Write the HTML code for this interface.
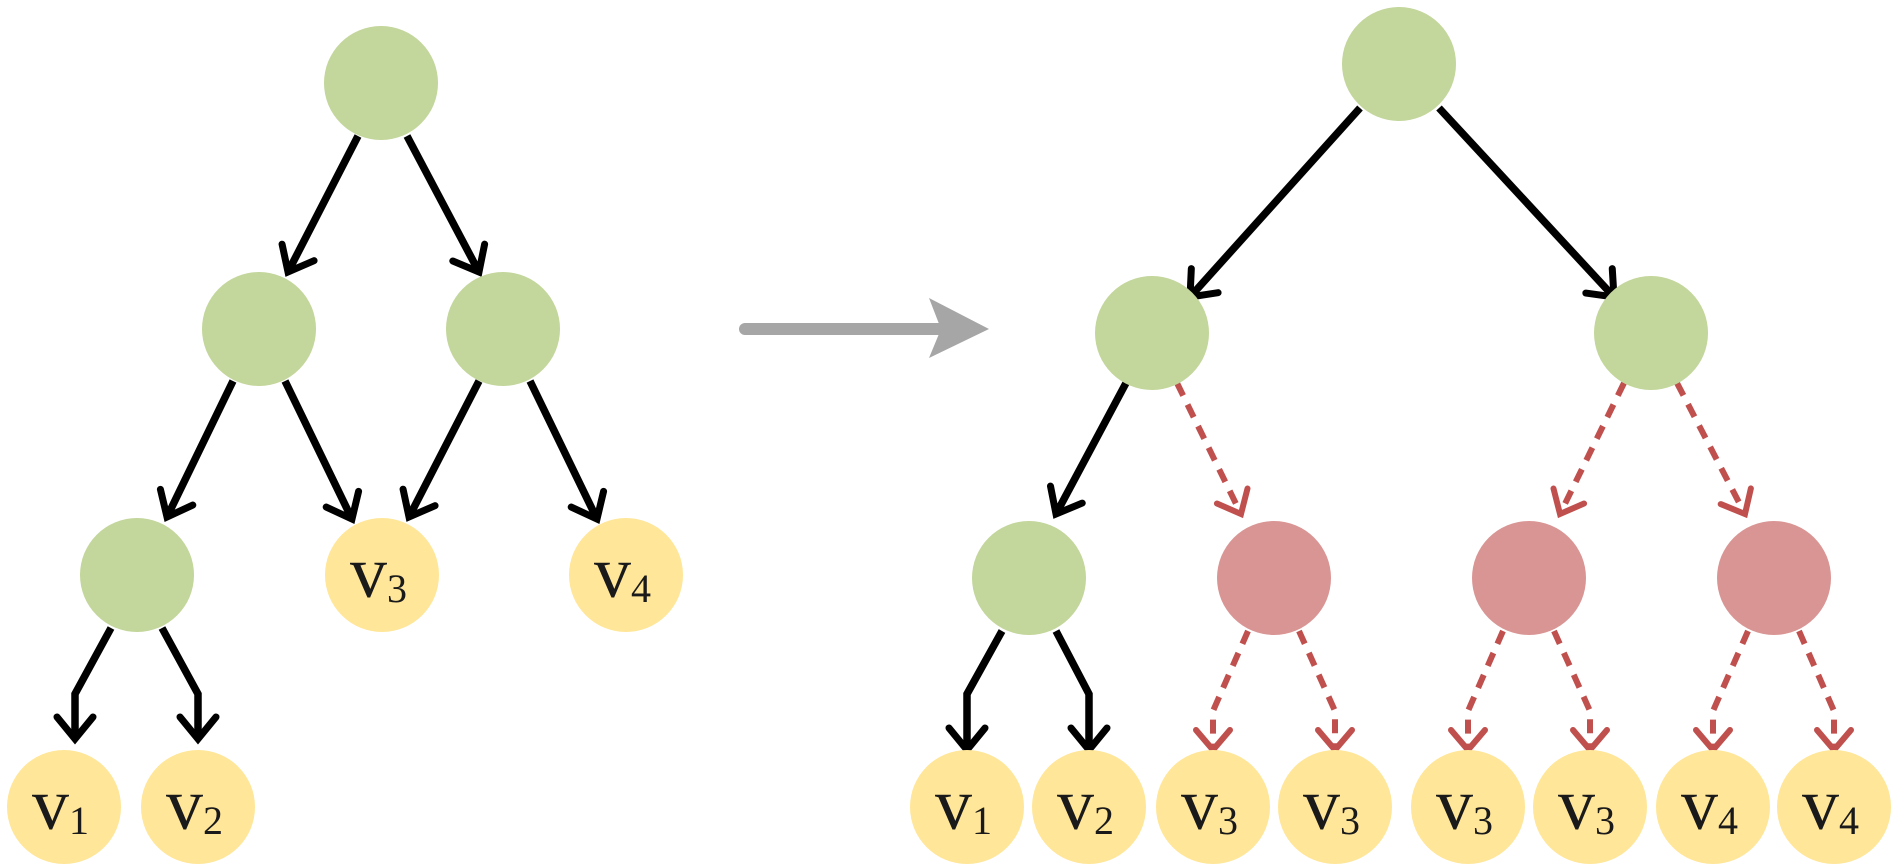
<!DOCTYPE html>
<html><head><meta charset="utf-8"><style>
html,body{margin:0;padding:0;background:#fff;width:1900px;height:867px;overflow:hidden}
text{font-family:"Liberation Serif",serif;fill:#1a1a1a}
</style></head><body>
<svg width="1900" height="867" viewBox="0 0 1900 867" xmlns="http://www.w3.org/2000/svg">
<defs>
<marker id="ab" markerUnits="userSpaceOnUse" markerWidth="60" markerHeight="60" refX="30" refY="30" orient="auto" viewBox="0 0 60 60">
<path d="M8,12 L30,30 L8,48" fill="none" stroke="#000" stroke-width="7" stroke-linecap="round" stroke-linejoin="miter"/>
</marker>
<marker id="ar" markerUnits="userSpaceOnUse" markerWidth="60" markerHeight="60" refX="30" refY="30" orient="auto" viewBox="0 0 60 60">
<path d="M10,13 L30,30 L10,47" fill="none" stroke="#c0504d" stroke-width="6" stroke-linecap="round"/>
</marker>
</defs>
<g fill="none" stroke="#000" stroke-width="7.5" marker-end="url(#ab)">
<path d="M358,136 L288,272"/>
<path d="M407,136 L479,272"/>
<path d="M233,381 L167,517"/>
<path d="M285,381 L352,519"/>
<path d="M479,381 L409,517"/>
<path d="M530,381 L597,519"/>
<path d="M111,628 L75,694 L75,739"/>
<path d="M162,628 L198,694 L198,739"/>
<path d="M1360,108 L1190,297"/>
<path d="M1439,108 L1614,297"/>
<path d="M1126,383 L1056,514"/>
<path d="M1002,631 L967,694 L967,750"/>
<path d="M1056,631 L1089,694 L1089,750"/>
</g>
<g fill="none" stroke="#c0504d" stroke-width="6" stroke-dasharray="14,10" marker-end="url(#ar)">
<path d="M1177,383 L1241,514"/>
<path d="M1624,383 L1560,514"/>
<path d="M1677,383 L1745,514"/>
<path d="M1248,631 L1213,711 L1213,750"/>
<path d="M1299,631 L1335,711 L1335,750"/>
<path d="M1503,631 L1468,711 L1468,750"/>
<path d="M1554,631 L1590,711 L1590,750"/>
<path d="M1748,631 L1713,711 L1713,750"/>
<path d="M1799,631 L1834,711 L1834,750"/>
</g>
<line x1="745" y1="329" x2="945" y2="329" stroke="#a6a6a6" stroke-width="12" stroke-linecap="round"/>
<polygon points="929,298 989,329 929,358 941,329" fill="#a6a6a6"/>
<g fill="#c3d69b">
<circle cx="381" cy="83" r="57"/>
<circle cx="259" cy="329" r="57"/>
<circle cx="503" cy="329" r="57"/>
<circle cx="137" cy="575" r="57"/>
<circle cx="1399" cy="64" r="57"/>
<circle cx="1152" cy="333" r="57"/>
<circle cx="1651" cy="333" r="57"/>
<circle cx="1029" cy="578" r="57"/>
</g>
<g fill="#d99594">
<circle cx="1274" cy="578" r="57"/>
<circle cx="1529" cy="578" r="57"/>
<circle cx="1774" cy="578" r="57"/>
</g>
<g fill="#ffe699">
<circle cx="382" cy="575" r="57"/>
<circle cx="626" cy="575" r="57"/>
<circle cx="64" cy="807" r="57"/>
<circle cx="198" cy="807" r="57"/>
<circle cx="967" cy="807" r="57"/>
<circle cx="1089" cy="807" r="57"/>
<circle cx="1213" cy="807" r="57"/>
<circle cx="1335" cy="807" r="57"/>
<circle cx="1468" cy="807" r="57"/>
<circle cx="1590" cy="807" r="57"/>
<circle cx="1713" cy="807" r="57"/>
<circle cx="1834" cy="807" r="57"/>
</g>
<g font-size="74">
<text x="350" y="597">v<tspan font-size="40" dy="5">3</tspan></text>
<text x="594" y="597">v<tspan font-size="40" dy="5">4</tspan></text>
<text x="32" y="829">v<tspan font-size="40" dy="5">1</tspan></text>
<text x="166" y="829">v<tspan font-size="40" dy="5">2</tspan></text>
<text x="935" y="829">v<tspan font-size="40" dy="5">1</tspan></text>
<text x="1057" y="829">v<tspan font-size="40" dy="5">2</tspan></text>
<text x="1181" y="829">v<tspan font-size="40" dy="5">3</tspan></text>
<text x="1303" y="829">v<tspan font-size="40" dy="5">3</tspan></text>
<text x="1436" y="829">v<tspan font-size="40" dy="5">3</tspan></text>
<text x="1558" y="829">v<tspan font-size="40" dy="5">3</tspan></text>
<text x="1681" y="829">v<tspan font-size="40" dy="5">4</tspan></text>
<text x="1802" y="829">v<tspan font-size="40" dy="5">4</tspan></text>
</g>
</svg>
</body></html>
